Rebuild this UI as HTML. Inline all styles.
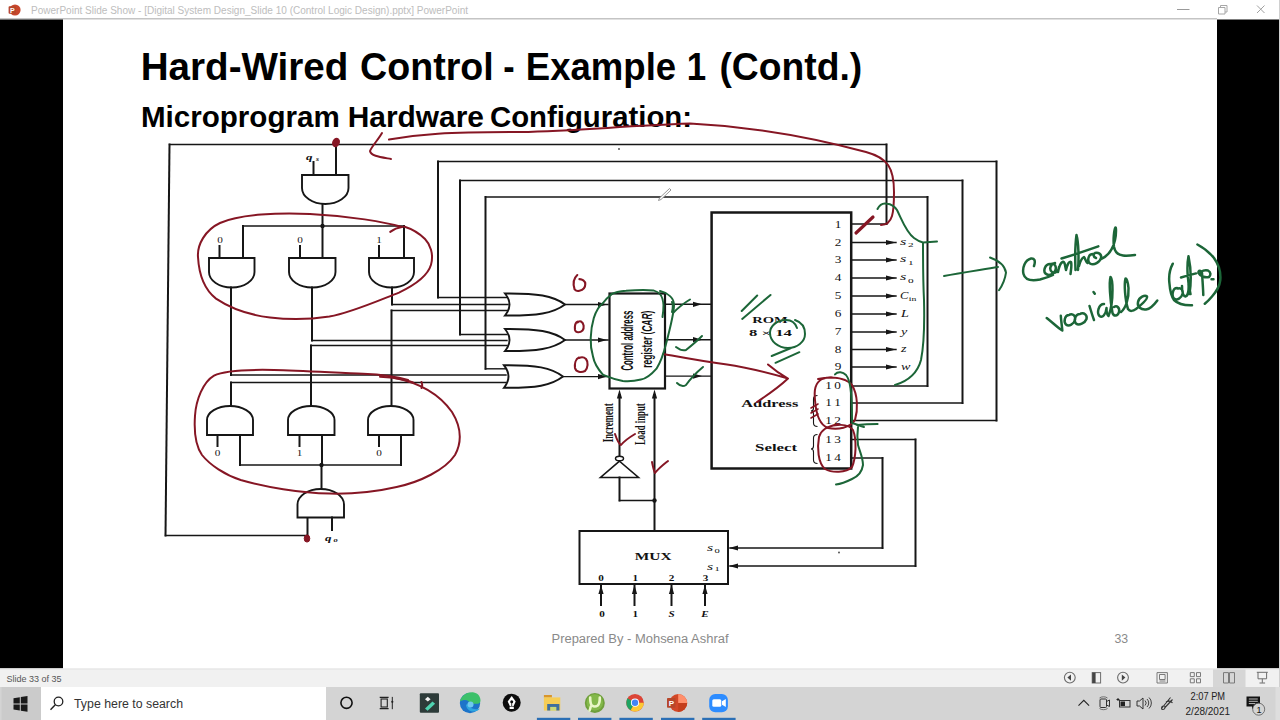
<!DOCTYPE html>
<html><head><meta charset="utf-8"><style>
*{margin:0;padding:0;box-sizing:border-box}
html,body{width:1280px;height:720px;overflow:hidden;background:#fff;font-family:"Liberation Sans",sans-serif}
svg{position:absolute;left:0;top:0}
.g{fill:#fff;stroke:#161616;stroke-width:1.9}
.w{fill:none;stroke:#161616;stroke-width:1.5}
</style></head><body>
<svg width="1280" height="720" viewBox="0 0 1280 720" font-family="Liberation Sans" fill="#111">
<!-- title bar -->
<rect x="0" y="0" width="1280" height="19" fill="#fff"/>
<rect x="0" y="18" width="1217" height="1.5" fill="#c4c4c4"/>
<!-- black bars -->
<rect x="0" y="19.5" width="63" height="649" fill="#000"/>
<rect x="1217" y="19.5" width="63" height="649" fill="#000"/>
<!-- slide title -->
<text x="140.70000000000002" y="80" font-size="38.5" font-weight="bold" fill="#000" textLength="207.7" lengthAdjust="spacingAndGlyphs">Hard-Wired</text>
<text x="360.05" y="80" font-size="38.5" font-weight="bold" fill="#000" textLength="133.65" lengthAdjust="spacingAndGlyphs">Control</text>
<text x="503.3" y="80" font-size="38.5" font-weight="bold" fill="#000" textLength="11.4" lengthAdjust="spacingAndGlyphs">-</text>
<text x="525.8" y="80" font-size="38.5" font-weight="bold" fill="#000" textLength="150.4" lengthAdjust="spacingAndGlyphs">Example</text>
<text x="686.8" y="80" font-size="38.5" font-weight="bold" fill="#000" textLength="19.4" lengthAdjust="spacingAndGlyphs">1</text>
<text x="719.4" y="80" font-size="38.5" font-weight="bold" fill="#000" textLength="142.79999999999998" lengthAdjust="spacingAndGlyphs">(Contd.)</text>
<text x="140.9" y="127" font-size="29" font-weight="bold" fill="#000" textLength="198.85" lengthAdjust="spacingAndGlyphs">Microprogram</text>
<text x="347.75" y="127" font-size="29" font-weight="bold" fill="#000" textLength="136.25" lengthAdjust="spacingAndGlyphs">Hardware</text>
<text x="490" y="127" font-size="29" font-weight="bold" fill="#000" textLength="202" lengthAdjust="spacingAndGlyphs">Configuration:</text>

<path d="M851.0 224.0L886.5 224.0" stroke="#161616" stroke-width="1.4" stroke-linecap="square" fill="none"/><path d="M886.5 224.0L886.5 144.5" stroke="#161616" stroke-width="2.0" stroke-linecap="square" fill="none"/><path d="M886.5 144.5L169.5 144.5" stroke="#161616" stroke-width="1.4" stroke-linecap="square" fill="none"/><path d="M169.5 144.5L165.5 535.5" stroke="#161616" stroke-width="2.0" stroke-linecap="square" fill="none"/><path d="M165.5 535.5L307.5 535.5" stroke="#161616" stroke-width="1.4" stroke-linecap="square" fill="none"/><path d="M307.5 535.5L307.5 517.5" stroke="#161616" stroke-width="2.0" stroke-linecap="square" fill="none"/>
<path d="M336.0 144.5L336.0 175.0" stroke="#161616" stroke-width="2.0" stroke-linecap="square" fill="none"/>
<path d="M851.0 420.5L996.5 420.5" stroke="#161616" stroke-width="1.4" stroke-linecap="square" fill="none"/><path d="M996.5 420.5L996.5 161.5" stroke="#161616" stroke-width="2.0" stroke-linecap="square" fill="none"/><path d="M996.5 161.5L438.0 161.5" stroke="#161616" stroke-width="1.4" stroke-linecap="square" fill="none"/><path d="M438.0 161.5L438.0 297.5" stroke="#161616" stroke-width="2.0" stroke-linecap="square" fill="none"/><path d="M438.0 297.5L507.0 297.5" stroke="#161616" stroke-width="1.4" stroke-linecap="square" fill="none"/>
<path d="M851.0 403.0L962.5 403.0" stroke="#161616" stroke-width="1.4" stroke-linecap="square" fill="none"/><path d="M962.5 403.0L962.5 180.5" stroke="#161616" stroke-width="2.0" stroke-linecap="square" fill="none"/><path d="M962.5 180.5L460.0 180.5" stroke="#161616" stroke-width="1.4" stroke-linecap="square" fill="none"/><path d="M460.0 180.5L460.0 334.5" stroke="#161616" stroke-width="2.0" stroke-linecap="square" fill="none"/><path d="M460.0 334.5L507.0 334.5" stroke="#161616" stroke-width="1.4" stroke-linecap="square" fill="none"/>
<path d="M851.0 386.0L927.5 386.0" stroke="#161616" stroke-width="1.4" stroke-linecap="square" fill="none"/><path d="M927.5 386.0L927.5 197.0" stroke="#161616" stroke-width="2.0" stroke-linecap="square" fill="none"/><path d="M927.5 197.0L485.5 197.0" stroke="#161616" stroke-width="1.4" stroke-linecap="square" fill="none"/><path d="M485.5 197.0L485.5 368.8" stroke="#161616" stroke-width="2.0" stroke-linecap="square" fill="none"/><path d="M485.5 368.8L506.0 368.8" stroke="#161616" stroke-width="1.4" stroke-linecap="square" fill="none"/>
<path d="M302 175H348.5V188A23.25 16 0 0 1 302 188Z" class="g"/>
<path d="M313.5 162.0L313.5 175.0" stroke="#161616" stroke-width="2.0" stroke-linecap="square" fill="none"/>
<path d="M322.5 204.0L322.5 226.0" stroke="#161616" stroke-width="2.0" stroke-linecap="square" fill="none"/>
<circle cx="322.5" cy="226" r="2.2" fill="#161616"/>
<path d="M243.0 258.0L243.0 226.0" stroke="#161616" stroke-width="2.0" stroke-linecap="square" fill="none"/><path d="M243.0 226.0L404.0 226.0" stroke="#161616" stroke-width="1.4" stroke-linecap="square" fill="none"/><path d="M404.0 226.0L404.0 258.0" stroke="#161616" stroke-width="2.0" stroke-linecap="square" fill="none"/>
<path d="M322.5 226.0L322.5 258.0" stroke="#161616" stroke-width="2.0" stroke-linecap="square" fill="none"/>
<path d="M209 258H254.5V272A22.75 15.5 0 0 1 209 272Z" class="g"/>
<path d="M219.5 246.0L219.5 258.0" stroke="#161616" stroke-width="2.0" stroke-linecap="square" fill="none"/>
<path d="M289 258H335.5V272A23.25 15.5 0 0 1 289 272Z" class="g"/>
<path d="M300.0 246.0L300.0 258.0" stroke="#161616" stroke-width="2.0" stroke-linecap="square" fill="none"/>
<path d="M369 258H414V272A22.5 15.5 0 0 1 369 272Z" class="g"/>
<path d="M379.0 246.0L379.0 258.0" stroke="#161616" stroke-width="2.0" stroke-linecap="square" fill="none"/>
<path d="M231.0 287.5L231.0 375.0" stroke="#161616" stroke-width="2.0" stroke-linecap="square" fill="none"/><path d="M231.0 375.0L506.0 375.0" stroke="#161616" stroke-width="1.4" stroke-linecap="square" fill="none"/>
<path d="M312.0 287.5L312.0 340.5" stroke="#161616" stroke-width="2.0" stroke-linecap="square" fill="none"/><path d="M312.0 340.5L507.0 340.5" stroke="#161616" stroke-width="1.4" stroke-linecap="square" fill="none"/>
<path d="M392.0 287.5L392.0 304.5" stroke="#161616" stroke-width="2.0" stroke-linecap="square" fill="none"/><path d="M392.0 304.5L508.0 304.5" stroke="#161616" stroke-width="1.4" stroke-linecap="square" fill="none"/>
<path d="M207 435H253V420A23.0 14 0 0 0 207 420Z" class="g"/>
<path d="M217.5 435.0L217.5 446.0" stroke="#161616" stroke-width="2.0" stroke-linecap="square" fill="none"/>
<path d="M288 435H334.5V420A23.25 14 0 0 0 288 420Z" class="g"/>
<path d="M299.5 435.0L299.5 446.0" stroke="#161616" stroke-width="2.0" stroke-linecap="square" fill="none"/>
<path d="M368 435H413.5V420A22.75 14 0 0 0 368 420Z" class="g"/>
<path d="M379.0 435.0L379.0 446.0" stroke="#161616" stroke-width="2.0" stroke-linecap="square" fill="none"/>
<path d="M231.0 406.0L231.0 382.5" stroke="#161616" stroke-width="2.0" stroke-linecap="square" fill="none"/><path d="M231.0 382.5L506.0 382.5" stroke="#161616" stroke-width="1.4" stroke-linecap="square" fill="none"/>
<path d="M311.0 406.0L311.0 345.5" stroke="#161616" stroke-width="2.0" stroke-linecap="square" fill="none"/><path d="M311.0 345.5L507.0 345.5" stroke="#161616" stroke-width="1.4" stroke-linecap="square" fill="none"/>
<path d="M391.5 406.0L391.5 310.5" stroke="#161616" stroke-width="2.0" stroke-linecap="square" fill="none"/><path d="M391.5 310.5L508.0 310.5" stroke="#161616" stroke-width="1.4" stroke-linecap="square" fill="none"/>
<path d="M240.0 435.0L240.0 465.0" stroke="#161616" stroke-width="2.0" stroke-linecap="square" fill="none"/><path d="M240.0 465.0L401.0 465.0" stroke="#161616" stroke-width="1.4" stroke-linecap="square" fill="none"/><path d="M401.0 465.0L401.0 435.0" stroke="#161616" stroke-width="2.0" stroke-linecap="square" fill="none"/>
<path d="M322.0 435.0L322.0 465.0" stroke="#161616" stroke-width="2.0" stroke-linecap="square" fill="none"/>
<circle cx="321.5" cy="465" r="2.2" fill="#161616"/>
<path d="M321.5 465.0L321.5 489.0" stroke="#161616" stroke-width="2.0" stroke-linecap="square" fill="none"/>
<path d="M297.5 517.5H344V504.5A23.25 15.5 0 0 0 297.5 504.5Z" class="g"/>
<path d="M332.0 517.5L332.0 530.0" stroke="#161616" stroke-width="2.0" stroke-linecap="square" fill="none"/>
<path d="M505 293.5C537 293.2 553 295.5 565 304.5C553 313.5 537 315.8 505 315.5Q514 304.5 505 293.5Z" class="g"/>
<path d="M505 329C537 328.7 553 331 565 340.0C553 349 537 351.3 505 351Q514 340.0 505 329Z" class="g"/>
<path d="M504 365.3C536 365.0 551 367.3 563 376.55C551 385.8 536 388.1 504 387.8Q513 376.55 504 365.3Z" class="g"/>
<path d="M565.0 304.5L608.0 304.5" stroke="#161616" stroke-width="1.4" stroke-linecap="square" fill="none"/>
<path d="M607 304.5L598 301.9L598 307.1Z" fill="#161616"/>
<path d="M565.0 340.0L608.0 340.0" stroke="#161616" stroke-width="1.4" stroke-linecap="square" fill="none"/>
<path d="M607 340L598 337.4L598 342.6Z" fill="#161616"/>
<path d="M563.0 376.6L608.0 376.6" stroke="#161616" stroke-width="1.4" stroke-linecap="square" fill="none"/>
<path d="M607 376.6L598 374.0L598 379.20000000000005Z" fill="#161616"/>
<rect x="609.5" y="293.5" width="55.5" height="95" fill="none" stroke="#161616" stroke-width="2.2"/>
<path d="M666.0 304.3L711.0 304.3" stroke="#161616" stroke-width="1.4" stroke-linecap="square" fill="none"/>
<path d="M702 304.3L693 301.7L693 306.90000000000003Z" fill="#161616"/>
<path d="M666.0 339.7L711.0 339.7" stroke="#161616" stroke-width="1.4" stroke-linecap="square" fill="none"/>
<path d="M702 339.7L693 337.09999999999997L693 342.3Z" fill="#161616"/>
<path d="M666.0 376.1L711.0 376.1" stroke="#161616" stroke-width="1.4" stroke-linecap="square" fill="none"/>
<path d="M702 376.1L693 373.5L693 378.70000000000005Z" fill="#161616"/>
<rect x="711.6" y="212.5" width="139.6" height="256" fill="none" stroke="#161616" stroke-width="2.5"/>
<path d="M851.0 242.5L896.0 242.5" stroke="#161616" stroke-width="1.4" stroke-linecap="square" fill="none"/>
<path d="M896 242.5L886 240.1L886 244.9Z" fill="#161616"/>
<path d="M851.0 260.0L896.0 260.0" stroke="#161616" stroke-width="1.4" stroke-linecap="square" fill="none"/>
<path d="M896 260L886 257.6L886 262.4Z" fill="#161616"/>
<path d="M851.0 278.0L896.0 278.0" stroke="#161616" stroke-width="1.4" stroke-linecap="square" fill="none"/>
<path d="M896 278L886 275.6L886 280.4Z" fill="#161616"/>
<path d="M851.0 296.0L896.0 296.0" stroke="#161616" stroke-width="1.4" stroke-linecap="square" fill="none"/>
<path d="M896 296L886 293.6L886 298.4Z" fill="#161616"/>
<path d="M851.0 314.0L896.0 314.0" stroke="#161616" stroke-width="1.4" stroke-linecap="square" fill="none"/>
<path d="M896 314L886 311.6L886 316.4Z" fill="#161616"/>
<path d="M851.0 332.0L896.0 332.0" stroke="#161616" stroke-width="1.4" stroke-linecap="square" fill="none"/>
<path d="M896 332L886 329.6L886 334.4Z" fill="#161616"/>
<path d="M851.0 349.5L896.0 349.5" stroke="#161616" stroke-width="1.4" stroke-linecap="square" fill="none"/>
<path d="M896 349.5L886 347.1L886 351.9Z" fill="#161616"/>
<path d="M851.0 367.0L896.0 367.0" stroke="#161616" stroke-width="1.4" stroke-linecap="square" fill="none"/>
<path d="M896 367L886 364.6L886 369.4Z" fill="#161616"/>
<path d="M851.0 439.5L915.5 439.5" stroke="#161616" stroke-width="1.4" stroke-linecap="square" fill="none"/><path d="M915.5 439.5L915.5 566.0" stroke="#161616" stroke-width="2.0" stroke-linecap="square" fill="none"/><path d="M915.5 566.0L730.0 566.0" stroke="#161616" stroke-width="1.4" stroke-linecap="square" fill="none"/>
<path d="M729 566L738 563.4L738 568.6Z" fill="#161616"/>
<path d="M851.0 458.0L882.5 458.0" stroke="#161616" stroke-width="1.4" stroke-linecap="square" fill="none"/><path d="M882.5 458.0L882.5 548.0" stroke="#161616" stroke-width="2.0" stroke-linecap="square" fill="none"/><path d="M882.5 548.0L730.0 548.0" stroke="#161616" stroke-width="1.4" stroke-linecap="square" fill="none"/>
<path d="M729 548L738 545.4L738 550.6Z" fill="#161616"/>
<rect x="579.5" y="531" width="148.5" height="53" fill="none" stroke="#161616" stroke-width="2"/>
<path d="M601.0 605.0L601.0 586.0" stroke="#161616" stroke-width="2.0" stroke-linecap="square" fill="none"/>
<path d="M601 585L598.4 594L603.6 594Z" fill="#161616"/>
<path d="M634.5 605.0L634.5 586.0" stroke="#161616" stroke-width="2.0" stroke-linecap="square" fill="none"/>
<path d="M634.5 585L631.9 594L637.1 594Z" fill="#161616"/>
<path d="M671.5 605.0L671.5 586.0" stroke="#161616" stroke-width="2.0" stroke-linecap="square" fill="none"/>
<path d="M671.5 585L668.9 594L674.1 594Z" fill="#161616"/>
<path d="M705.0 605.0L705.0 586.0" stroke="#161616" stroke-width="2.0" stroke-linecap="square" fill="none"/>
<path d="M705 585L702.4 594L707.6 594Z" fill="#161616"/>
<path d="M654.5 531.0L654.5 395.0" stroke="#161616" stroke-width="2.0" stroke-linecap="square" fill="none"/>
<path d="M654.5 389.5L651.9 398.5L657.1 398.5Z" fill="#161616"/>
<path d="M619.5 456.0L619.5 395.0" stroke="#161616" stroke-width="2.0" stroke-linecap="square" fill="none"/>
<path d="M619.5 389.5L616.9 398.5L622.1 398.5Z" fill="#161616"/>
<ellipse cx="619.5" cy="458.5" rx="4" ry="2.3" fill="#fff" stroke="#161616" stroke-width="1.5"/>
<path d="M619.5 461.2L600.5 477.5H638.5Z" fill="#fff" stroke="#161616" stroke-width="1.6"/>
<path d="M619.5 477.5L619.5 500.5" stroke="#161616" stroke-width="2.0" stroke-linecap="square" fill="none"/><path d="M619.5 500.5L654.5 500.5" stroke="#161616" stroke-width="1.4" stroke-linecap="square" fill="none"/>
<circle cx="654.5" cy="500.5" r="2.2" fill="#161616"/>
<text transform="translate(306 159.6) scale(1.3 0.85)" font-size="10" text-anchor="start" font-family="Liberation Serif" font-weight="bold" font-style="italic">q</text>
<text transform="translate(316 160.5) scale(1.2 0.9)" font-size="6.5" text-anchor="start" font-family="Liberation Serif" font-weight="bold" font-style="italic">s</text>
<text transform="translate(220 242.5) scale(1.25 0.85)" font-size="9" text-anchor="middle" font-family="Liberation Serif" >0</text>
<text transform="translate(300 242.5) scale(1.25 0.85)" font-size="9" text-anchor="middle" font-family="Liberation Serif" >0</text>
<text transform="translate(379 242.5) scale(1.25 0.85)" font-size="9" text-anchor="middle" font-family="Liberation Serif" >1</text>
<text transform="translate(217.5 455.8) scale(1.25 0.85)" font-size="9" text-anchor="middle" font-family="Liberation Serif" >0</text>
<text transform="translate(299.5 455.8) scale(1.25 0.85)" font-size="9" text-anchor="middle" font-family="Liberation Serif" >1</text>
<text transform="translate(379 455.8) scale(1.25 0.85)" font-size="9" text-anchor="middle" font-family="Liberation Serif" >0</text>
<text transform="translate(325 540.5) scale(1.3 0.85)" font-size="10" text-anchor="start" font-family="Liberation Serif" font-weight="bold" font-style="italic">q</text>
<text transform="translate(333.5 541.5) scale(1.3 0.9)" font-size="6.5" text-anchor="start" font-family="Liberation Serif" font-weight="bold" font-style="italic">o</text>
<text transform="translate(838 228.4) scale(1.35 1.0)" font-size="9.8" text-anchor="middle" font-family="Liberation Serif" >1</text>
<text transform="translate(838 245.9) scale(1.35 1.0)" font-size="9.8" text-anchor="middle" font-family="Liberation Serif" >2</text>
<text transform="translate(838 263.4) scale(1.35 1.0)" font-size="9.8" text-anchor="middle" font-family="Liberation Serif" >3</text>
<text transform="translate(838 281.4) scale(1.35 1.0)" font-size="9.8" text-anchor="middle" font-family="Liberation Serif" >4</text>
<text transform="translate(838 299.4) scale(1.35 1.0)" font-size="9.8" text-anchor="middle" font-family="Liberation Serif" >5</text>
<text transform="translate(838 317.4) scale(1.35 1.0)" font-size="9.8" text-anchor="middle" font-family="Liberation Serif" >6</text>
<text transform="translate(838 335.4) scale(1.35 1.0)" font-size="9.8" text-anchor="middle" font-family="Liberation Serif" >7</text>
<text transform="translate(838 352.9) scale(1.35 1.0)" font-size="9.8" text-anchor="middle" font-family="Liberation Serif" >8</text>
<text transform="translate(838 370.4) scale(1.35 1.0)" font-size="9.8" text-anchor="middle" font-family="Liberation Serif" >9</text>
<text transform="translate(828.6 389.4) scale(1.35 1.0)" font-size="9.8" text-anchor="middle" font-family="Liberation Serif" >1</text>
<text transform="translate(837.6 389.4) scale(1.35 1.0)" font-size="9.8" text-anchor="middle" font-family="Liberation Serif" >0</text>
<text transform="translate(828.6 406.4) scale(1.35 1.0)" font-size="9.8" text-anchor="middle" font-family="Liberation Serif" >1</text>
<text transform="translate(837.6 406.4) scale(1.35 1.0)" font-size="9.8" text-anchor="middle" font-family="Liberation Serif" >1</text>
<text transform="translate(828.6 424.4) scale(1.35 1.0)" font-size="9.8" text-anchor="middle" font-family="Liberation Serif" >1</text>
<text transform="translate(837.6 424.4) scale(1.35 1.0)" font-size="9.8" text-anchor="middle" font-family="Liberation Serif" >2</text>
<text transform="translate(828.6 442.9) scale(1.35 1.0)" font-size="9.8" text-anchor="middle" font-family="Liberation Serif" >1</text>
<text transform="translate(837.6 442.9) scale(1.35 1.0)" font-size="9.8" text-anchor="middle" font-family="Liberation Serif" >3</text>
<text transform="translate(828.6 460.9) scale(1.35 1.0)" font-size="9.8" text-anchor="middle" font-family="Liberation Serif" >1</text>
<text transform="translate(837.6 460.9) scale(1.35 1.0)" font-size="9.8" text-anchor="middle" font-family="Liberation Serif" >4</text>
<text transform="translate(900 244.7) scale(1.55 0.9)" font-size="10.5" text-anchor="start" font-family="Liberation Serif" font-style="italic">s</text>
<text transform="translate(908 247.1) scale(1.5 0.95)" font-size="7.5" text-anchor="start" font-family="Liberation Serif" >2</text>
<text transform="translate(900 262.2) scale(1.55 0.9)" font-size="10.5" text-anchor="start" font-family="Liberation Serif" font-style="italic">s</text>
<text transform="translate(908 264.6) scale(1.5 0.95)" font-size="7.5" text-anchor="start" font-family="Liberation Serif" >1</text>
<text transform="translate(900 280.2) scale(1.55 0.9)" font-size="10.5" text-anchor="start" font-family="Liberation Serif" font-style="italic">s</text>
<text transform="translate(908 282.6) scale(1.5 0.95)" font-size="7.5" text-anchor="start" font-family="Liberation Serif" >0</text>
<text transform="translate(900 298.8) scale(1.2 0.9)" font-size="10.5" text-anchor="start" font-family="Liberation Serif" font-style="italic">C</text>
<text transform="translate(908.8 300.8) scale(1.3 0.95)" font-size="7.5" text-anchor="start" font-family="Liberation Serif" >in</text>
<text transform="translate(901 316.5) scale(1.35 0.9)" font-size="10.5" text-anchor="start" font-family="Liberation Serif" font-style="italic">L</text>
<text transform="translate(901 334.5) scale(1.35 0.9)" font-size="10.5" text-anchor="start" font-family="Liberation Serif" font-style="italic">y</text>
<text transform="translate(901 352.0) scale(1.35 0.9)" font-size="10.5" text-anchor="start" font-family="Liberation Serif" font-style="italic">z</text>
<text transform="translate(901 369.5) scale(1.35 0.9)" font-size="10.5" text-anchor="start" font-family="Liberation Serif" font-style="italic">w</text>
<text transform="translate(770 322.8) scale(1 1)" font-size="8.6" text-anchor="middle" font-family="Liberation Serif" font-weight="bold" textLength="35.5" lengthAdjust="spacingAndGlyphs">ROM</text>
<text transform="translate(770.5 335.5) scale(1 1)" font-size="8.6" text-anchor="middle" font-family="Liberation Serif" font-weight="bold" textLength="43" lengthAdjust="spacingAndGlyphs">8  ×  14</text>
<text transform="translate(769.8 406.8) scale(1 1)" font-size="9.6" text-anchor="middle" font-family="Liberation Serif" font-weight="bold" textLength="57" lengthAdjust="spacingAndGlyphs">Address</text>
<text transform="translate(776.1 451.4) scale(1 1)" font-size="9.6" text-anchor="middle" font-family="Liberation Serif" font-weight="bold" textLength="42.2" lengthAdjust="spacingAndGlyphs">Select</text>
<path d="M817.5 434.5Q813.5 434.5 813.5 438V446Q813.5 449 811 449Q813.5 449 813.5 452V460Q813.5 463.5 817.5 463.5" fill="none" stroke="#161616" stroke-width="1.1"/>
<path d="M817.5 395.5Q813.5 395.5 813.5 399V408Q813.5 411 811 411Q813.5 411 813.5 414V423Q813.5 426.5 817.5 426.5" fill="none" stroke="#161616" stroke-width="1.1"/>
<text transform="translate(633.2,340.6) rotate(-90)" font-size="16" text-anchor="middle" font-family="Liberation Sans" font-weight="bold" textLength="60" lengthAdjust="spacingAndGlyphs">Control address</text>
<text transform="translate(651.8,339.2) rotate(-90)" font-size="15" text-anchor="middle" font-family="Liberation Sans" font-weight="bold" textLength="57" lengthAdjust="spacingAndGlyphs">register (<tspan font-style="italic">CAR</tspan>)</text>
<text transform="translate(612.6,422.8) rotate(-90)" font-size="15.5" font-weight="bold" text-anchor="middle" font-family="Liberation Serif" textLength="39" lengthAdjust="spacingAndGlyphs">Increment</text>
<text transform="translate(645.3,424.1) rotate(-90)" font-size="15.5" font-weight="bold" text-anchor="middle" font-family="Liberation Serif" textLength="41.8" lengthAdjust="spacingAndGlyphs">Load input</text>
<text transform="translate(653.1 559.7) scale(1 1)" font-size="9.3" text-anchor="middle" font-family="Liberation Serif" font-weight="bold" textLength="36.8" lengthAdjust="spacingAndGlyphs">MUX</text>
<text transform="translate(707 551.2) scale(1.5 0.9)" font-size="10.5" text-anchor="start" font-family="Liberation Serif" font-style="italic">s</text>
<text transform="translate(714.5 553) scale(1.4 0.95)" font-size="7.5" text-anchor="start" font-family="Liberation Serif" >0</text>
<text transform="translate(707 569.5) scale(1.5 0.9)" font-size="10.5" text-anchor="start" font-family="Liberation Serif" font-style="italic">s</text>
<text transform="translate(714.5 571.3) scale(1.4 0.95)" font-size="7.5" text-anchor="start" font-family="Liberation Serif" >1</text>
<text transform="translate(601 581.3) scale(1.3 0.95)" font-size="8.6" text-anchor="middle" font-family="Liberation Serif" font-weight="bold">0</text>
<text transform="translate(635.4 581.3) scale(1.3 0.95)" font-size="8.6" text-anchor="middle" font-family="Liberation Serif" font-weight="bold">1</text>
<text transform="translate(671.5 581.3) scale(1.3 0.95)" font-size="8.6" text-anchor="middle" font-family="Liberation Serif" font-weight="bold">2</text>
<text transform="translate(705.5 581.3) scale(1.3 0.95)" font-size="8.6" text-anchor="middle" font-family="Liberation Serif" font-weight="bold">3</text>
<text transform="translate(602 617.4) scale(1.3 0.95)" font-size="8.6" text-anchor="middle" font-family="Liberation Serif" font-weight="bold">0</text>
<text transform="translate(635.4 617.4) scale(1.3 0.95)" font-size="8.6" text-anchor="middle" font-family="Liberation Serif" font-weight="bold">1</text>
<text transform="translate(671.5 617.4) scale(1.3 0.95)" font-size="8.6" text-anchor="middle" font-family="Liberation Serif" font-weight="bold" font-style="italic">S</text>
<text transform="translate(705 617.4) scale(1.3 0.95)" font-size="8.6" text-anchor="middle" font-family="Liberation Serif" font-weight="bold" font-style="italic">E</text>
<path d="M389 139.5C420 134 445 132 520 132C580 131 620 126 690 123.6C740 126 800 134 866 152C888 158 894 168 894 192C894 212 893 225 881 225" fill="none" stroke="#861624" stroke-width="2.0" stroke-linecap="round" stroke-linejoin="round"/>
<path d="M382 133C378 140 372 146 370 151C371 156 380 157 391 159" fill="none" stroke="#861624" stroke-width="2.0" stroke-linecap="round" stroke-linejoin="round"/>
<ellipse cx="336" cy="142.5" rx="3.2" ry="4.2" fill="#861624" stroke="#861624" stroke-width="1.2" transform="rotate(20 336 142.5)"/>
<ellipse cx="307" cy="538.5" rx="2.8" ry="3.6" fill="#861624" stroke="#861624" stroke-width="1"/>
<path d="M856 233L873 217" fill="none" stroke="#861624" stroke-width="3.2" stroke-linecap="round" stroke-linejoin="round"/>
<path d="M390.2 231.9C394 229 398 227.5 402 227" fill="none" stroke="#861624" stroke-width="2.0" stroke-linecap="round" stroke-linejoin="round"/>
<path d="M402 227C385 222 350 216 310 214C280 212.5 240 214 220 223C205 230 197 245 198 257C199 275 205 290 216 298.6C230 308 250 315 270 317.5C290 320 310 319.5 329.4 316.6C350 313 375 302 399 292.6C415 285 428 275 431 264.8C434 254 430 244 425 239C418 232 412 229 404 226.5" fill="none" stroke="#861624" stroke-width="2.0" stroke-linecap="round" stroke-linejoin="round"/>
<path d="M380 376.7C395 377.5 405 379 413 382.5M421.5 382C422.5 384 422.5 386 421.5 388" fill="none" stroke="#861624" stroke-width="2.0" stroke-linecap="round" stroke-linejoin="round"/>
<path d="M395 378C420 383 440 395 452 412C460 425 463 440 455 455C445 470 420 482 396.6 487C375 492 350 494 329.8 493.6C300 493 265 487 240.7 480C225 475 210 465 202 455C195 445 194 430 195 415.7C196 400 203 382 214 375.6C225 370 250 369.5 274 370C300 370.5 340 373 363 373.8C380 374.5 395 376 408 380" fill="none" stroke="#861624" stroke-width="2.0" stroke-linecap="round" stroke-linejoin="round"/>
<path d="M577.3 275C574 278 572.5 283 574.6 289.3C576 291 578 291.2 579.4 290.8C583 290 585.3 288 585.3 284C585.3 281 582 279 579.4 279.1" fill="none" stroke="#861624" stroke-width="2.1" stroke-linecap="round" stroke-linejoin="round"/>
<path d="M578 321.5C575 322 574.5 327 575 330C576 333 580 333 582.5 330.5C584.5 328 584 323 581 321.5C580 321 578.5 321.5 577.5 322.5" fill="none" stroke="#861624" stroke-width="2.1" stroke-linecap="round" stroke-linejoin="round"/>
<path d="M579 357.5C575.5 359 574.5 364 575 368C576 372 581 373 585 371C588 368 588.5 362 586 359C584 357 581 357 579 358" fill="none" stroke="#861624" stroke-width="2.1" stroke-linecap="round" stroke-linejoin="round"/>
<path d="M663.5 354C680 357 700 361 727 364.5C745 367 765 372 788 378.5C780 374 772 368 768 364.5C772 368 780 374 788 378.5C778 388 766 396 757 402" fill="none" stroke="#861624" stroke-width="2.0" stroke-linecap="round" stroke-linejoin="round"/>
<path d="M818 379C830 376 845 377 852 385C858 395 858 410 855 420C850 428 838 430 828 428C820 425 816 415 815 400C814 390 815 383 822 379C828 377 838 377 845 380" fill="none" stroke="#861624" stroke-width="2.0" stroke-linecap="round" stroke-linejoin="round"/>
<path d="M826 428C835 424 848 423 853 430C857 440 856 458 852 467C846 473 832 473 825 469C818 463 817 448 819 437C821 430 826 427 838 424" fill="none" stroke="#861624" stroke-width="2.0" stroke-linecap="round" stroke-linejoin="round"/>
<path d="M811 408L818 404M811 413L818 409M811 418L818 414" fill="none" stroke="#861624" stroke-width="1.6" stroke-linecap="round" stroke-linejoin="round"/>
<path d="M615 434C617 440 619 444 621 445C625 440 630 437 635 434" fill="none" stroke="#861624" stroke-width="2.0" stroke-linecap="round" stroke-linejoin="round"/>
<path d="M652 462C653 467 654 471 655 473C659 468 663 465 668 461" fill="none" stroke="#861624" stroke-width="2.0" stroke-linecap="round" stroke-linejoin="round"/>
<path d="M610.6 294.5C615 292 620 291 626 290.7C635 290 645 289.5 653.4 290.4C660 292 663 296 663.5 305C663.5 310 663 314 662.5 317" fill="none" stroke="#1c6638" stroke-width="2.0" stroke-linecap="round" stroke-linejoin="round"/>
<path d="M660 291C668 293 674 298 674 305C674 312 671 325 666 344C664 352 662 360 656.5 368.7C651 375 645 379 641 379.5C635 381 628 381.5 622.8 381C612 379 606 376 603 374.8C597 368 594 362 593 356.5C591 350 590.5 344 590.7 338C591 330 592 324 593.8 318C596 311 599 306 603 303C606 299 608 297 612 294" fill="none" stroke="#1c6638" stroke-width="2.0" stroke-linecap="round" stroke-linejoin="round"/>
<path d="M672 312C673 308 673 304 672 302M673 313C678 308 684 303 690 299.5" fill="none" stroke="#1c6638" stroke-width="2.0" stroke-linecap="round" stroke-linejoin="round"/>
<path d="M676 347C680 350 683 351 686 350C691 346 697 341 702 336" fill="none" stroke="#1c6638" stroke-width="2.0" stroke-linecap="round" stroke-linejoin="round"/>
<path d="M677 383C680 386 683 387 686 385C691 378 697 372 703 367" fill="none" stroke="#1c6638" stroke-width="2.0" stroke-linecap="round" stroke-linejoin="round"/>
<path d="M741.7 311L757.2 295.5M742.2 318.9L770.5 295" fill="none" stroke="#1c6638" stroke-width="2.0" stroke-linecap="round" stroke-linejoin="round"/>
<path d="M797 328C795 322 791 320 786 320C777 320 770 326 770 333C770 341 778 348 788 348C797 348 805 342 805 334C805 327 801 322 795 320" fill="none" stroke="#1c6638" stroke-width="2.0" stroke-linecap="round" stroke-linejoin="round"/>
<path d="M771.7 356L790.5 348.3M775.5 362.8L799.4 352.2" fill="none" stroke="#1c6638" stroke-width="2.0" stroke-linecap="round" stroke-linejoin="round"/>
<path d="M877.5 209C880 204 884 203 887 203.7C892 204 895 207 897 210C902 220 906 232 914 238C918 241 921 242 923 242.5M923 242.5L937 241.5M923 243C923 260 923 280 924 300C924.5 320 924 345 921 360C917 375 905 382 895 385" fill="none" stroke="#1c6638" stroke-width="2.0" stroke-linecap="round" stroke-linejoin="round"/>
<path d="M944 276C960 273 980 270 998 267M990 257.5C1000 261 1005 266 1006 272.7C1005 280 1002 286 999 290.3" fill="none" stroke="#1c6638" stroke-width="2.0" stroke-linecap="round" stroke-linejoin="round"/>
<path d="M835 374.4C838 371 843 372 846 375C850 380 852 390 852 421M852 423C856 424 860 426 864 427M857 425C866 424 872 424 877.6 424M858 427C857 434 857.5 441 858 445C860 452 863 458 863 465C862 472 859 476 852 479C846 482 840 484 836 484.5" fill="none" stroke="#1c6638" stroke-width="2.0" stroke-linecap="round" stroke-linejoin="round"/>
<path d="M669.5 188.5L671 190L661 199.5L658.5 200.5L659.5 198Z" fill="#fff" stroke="#8a8a8a" stroke-width="0.9"/>
<circle cx="619" cy="149" r="0.9" fill="#444"/><circle cx="839" cy="552.5" r="0.9" fill="#444"/>
<path d="M1034 266C1036 260 1034 258 1031 258.5C1025 260 1022 268 1023.5 274C1025 280 1032 281 1040 279.5C1046 278 1050 276.5 1053 275M1050 264C1045 264 1043 271 1045.5 273.5C1048 276 1053 275 1055 271C1057 267 1055 263 1051 264M1055 263C1050 264 1049 270 1052 272C1055 274 1059 271 1059 267M1058 272C1059 267 1060 263 1062.5 262C1065 261 1065 266 1066 270C1067 265 1069 261 1071 262C1072 265 1071 270 1070.5 274M1075.5 270C1075 258 1075.5 242 1076.5 235C1078.5 242 1079 258 1078 270M1061.5 258.5C1075 254.5 1088 250 1098.3 246.4M1079 266C1080 262 1082 258 1084 257C1085.5 259 1086 262 1087.5 263M1093 254C1088 254 1087 261 1090 263.5C1094 266 1100 262 1101 258C1102 254 1098 252 1095 253C1093 254 1093 257 1096 258M1101 259C1108 256 1113 249 1115 240C1116.5 233 1116 227 1115.5 227.5C1114 230 1113 240 1114 247C1115 252 1118 255 1123 255.5C1127 256 1131 255.5 1135 255" fill="none" stroke="#1c6638" stroke-width="2.5" stroke-linecap="round" stroke-linejoin="round"/>
<path d="M1046.7 318C1052 322 1058 328 1062.3 330.5C1062 326 1061 320 1060.8 315.7M1069 315C1064.5 315 1063.5 322 1066 324.5C1069 327 1074 324 1075 320C1076 316 1073 313.5 1070 314.5M1080 314C1075 314 1073.5 321 1076 323.5C1079 326 1085 323 1086.5 319C1087.5 315 1084 312.5 1081 313.5M1089.5 306C1091 311 1092.5 316 1094 320M1093.5 292L1094.8 293.8M1104 304C1098.5 304 1096.5 313 1099.5 316C1102.5 318.5 1106 314 1106.5 308C1106.5 312 1107 315 1108.5 316M1108.5 316C1111 310 1112.5 300 1112.5 290C1112.5 283 1111.5 278 1110.5 277C1109 282 1110 300 1112.5 313C1114 317 1118 316 1119 312C1120 308 1117 305 1114 307M1121 312C1126 308 1129 298 1128.5 288C1128 282 1126.5 278 1125.5 278.5C1124 284 1125 300 1128 309C1130 312 1133 311 1136 309M1136 309C1141 305 1148 299 1147 296.5C1145 294.5 1139 297 1138 302C1137 307 1141 310 1146 309.5C1150 309 1154 305 1157.3 300.5" fill="none" stroke="#1c6638" stroke-width="2.5" stroke-linecap="round" stroke-linejoin="round"/>
<path d="M1172.8 263.7C1169.5 270 1168.8 278 1169.4 283C1170 291 1171 296 1174 300C1178 304 1185 305.5 1192 305.3M1177 288C1172.5 288 1171.5 296 1174 298.5C1177 301 1181.5 298 1182.5 294C1183.5 290 1181 287.5 1178 288.5M1182 286C1182 292 1183 296 1185.5 296.5C1188 296 1189 290 1188.5 284M1189.5 294C1191 284 1191 268 1188.5 256.3C1186.5 266 1187.5 282 1190.5 294M1181 277.5C1186 276 1191 274.5 1196 273.4M1203.3 295C1203 287 1202.5 280 1202 273C1201 270 1198 270 1198.5 273C1200 276 1205 278 1209 277C1211 275 1211 272 1208 270.5C1205 269.5 1201 271 1201 273M1211.5 279.3L1213.5 279.3M1197.4 244.5C1204 248 1210 253 1214 258C1219 265 1221 272 1220.3 280C1219.5 287 1216 292 1212 296.5C1209.5 299.5 1207 302 1204.8 303.8" fill="none" stroke="#1c6638" stroke-width="2.5" stroke-linecap="round" stroke-linejoin="round"/>
<!-- footer -->
<text x="551.5" y="643" font-size="12.3" fill="#8a8a8a" textLength="177" lengthAdjust="spacingAndGlyphs">Prepared By - Mohsena Ashraf</text>
<text x="1114.5" y="643" font-size="12.3" fill="#8a8a8a">33</text>
<!-- status bar -->
<rect x="0" y="668.5" width="1280" height="18.5" fill="#f1f1f1"/>
<rect x="0" y="668.5" width="1280" height="1" fill="#e2e2e2"/>
<text x="6.5" y="681.5" font-size="9" fill="#555">Slide 33 of 35</text>
<!-- taskbar -->
<rect x="0" y="687" width="1280" height="33" fill="#d4d4d4"/>
<rect x="1.5" y="687" width="39.5" height="33" fill="#cbcbcb"/>
<rect x="41" y="687" width="285" height="33" fill="#fff"/>
<text x="74" y="708" font-size="12.5" fill="#333" textLength="109" lengthAdjust="spacingAndGlyphs">Type here to search</text>
<circle cx="15" cy="10" r="5.6" fill="#c8462c"/>
<rect x="8.6" y="6.2" width="7.4" height="7.6" rx="0.8" fill="#b7472a"/>
<text x="12.3" y="12.6" font-size="7" font-weight="bold" fill="#fff" text-anchor="middle">P</text>
<text x="31" y="13.6" font-size="10" fill="#bdbdbd" textLength="437" lengthAdjust="spacingAndGlyphs">PowerPoint Slide Show  -  [Digital System Design_Slide 10 (Control Logic Design).pptx]   PowerPoint</text>
<path d="M1177 9.5H1189.5" stroke="#9a9a9a" stroke-width="1"/>
<path d="M1218.5 7.5h6.5v6.5h-6.5zM1220.5 7.5V5.5h6.5v6.5h-2" fill="none" stroke="#a6a6a6" stroke-width="1"/>
<path d="M1257 5.5L1264.5 13M1264.5 5.5L1257 13" stroke="#a0a0a0" stroke-width="1"/>
<rect x="1279" y="0" width="1" height="687" fill="#d0d0d0"/>
<circle cx="1069.8" cy="677.6" r="5.4" fill="none" stroke="#6d6d6d" stroke-width="1.1"/><path d="M1067.4 677.6l3.6-3.1v6.2z" fill="#444"/>
<rect x="1092.2" y="672.6" width="8.4" height="10.4" fill="none" stroke="#6d6d6d" stroke-width="1"/><rect x="1092.2" y="672.6" width="3.4" height="10.4" fill="#444"/>
<circle cx="1123" cy="677.6" r="5.4" fill="none" stroke="#6d6d6d" stroke-width="1.1"/><path d="M1125.4 677.6l-3.6-3.1v6.2z" fill="#444"/>
<path d="M1157 672.6h10.4v10.4h-10.4zM1159.5 674.5h5.6v5h-5.6zM1159.5 681h6" fill="none" stroke="#6d6d6d" stroke-width="0.9"/>
<path d="M1190.3 672.6h4v4h-4zM1196.5 672.6h4v4h-4zM1190.3 678.8h4v4h-4zM1196.5 678.8h4v4h-4z" fill="none" stroke="#6d6d6d" stroke-width="0.9"/>
<rect x="1213" y="669.5" width="32.5" height="17.5" fill="#d6d6d6"/>
<path d="M1223.5 672.6h5v10.4h-5zM1229.5 672.6h5v10.4h-5z" fill="none" stroke="#7a7a7a" stroke-width="1"/>
<path d="M1256.8 672.3h11M1258 672.3v6.5h8.6v-6.5M1262.3 678.8v4M1259.5 683h5.6" fill="none" stroke="#6d6d6d" stroke-width="1"/>
<path d="M13.5 698.2l6.3-0.9v6.1h-6.3zM20.8 697.1l6.7-1v7.3h-6.7zM13.5 704.4h6.3v6.1l-6.3-0.9zM20.8 704.4h6.7v7.3l-6.7-1z" fill="#1a1a1a"/>
<circle cx="58.5" cy="701.5" r="4.3" fill="none" stroke="#222" stroke-width="1.3"/><path d="M55.3 704.8L50.5 709.8" stroke="#222" stroke-width="1.4"/>
<circle cx="346.5" cy="702.8" r="5.6" fill="none" stroke="#111" stroke-width="1.6"/>
<path d="M379.7 697.4H388.6M379.7 708.6H388.6" stroke="#222" stroke-width="1.1"/><rect x="381.1" y="699" width="6.2" height="8" fill="none" stroke="#222" stroke-width="1.1"/><path d="M392.3 696.9V709.2" stroke="#222" stroke-width="1"/><circle cx="392.3" cy="701.8" r="1.1" fill="#222"/>
<rect x="419.8" y="693.3" width="19.2" height="19.5" rx="1" fill="#2d3b39"/><path d="M427.8 696.8l2.8 2.4-2.8 2.4-2.8-2.4z" fill="#f2f2f2"/><path d="M425 708.5l7.5-7 2.6 2.3-7.5 7z" fill="#4fd3b0"/>
<circle cx="470" cy="703" r="10.2" fill="#1d74c9"/><path d="M460 701c2-6 8-9.5 14-8.5c4 .8 6.5 4 6.5 8c0 2-1 3.2-3 3.2h-7.5c-.5-3-4-4.5-7-3.5c-1.5.5-2.5 1-3 .8z" fill="#3cc06a"/><path d="M466 704.5c0 4.5 4 7.5 8.5 7c2.5-.3 4.5-1.5 5.5-3c-3 1.2-7 .8-9.5-1c-1.5-1-2.5-2-2.7-3z" fill="#2fa6e0"/><circle cx="470.5" cy="704.5" r="3" fill="#6fc9ef"/>
<circle cx="511.7" cy="702.7" r="9" fill="#0d0d0d"/><path d="M511.7 696l4 5.5-2.2 4.8h-3.6l-2.2-4.8z" fill="#fff"/><circle cx="511.7" cy="701.8" r="1.5" fill="#0d0d0d"/><path d="M511.7 702.5v3.5" stroke="#0d0d0d" stroke-width="0.8"/><rect x="509.6" y="706.8" width="4.2" height="2.2" fill="#fff"/>
<path d="M543.9 695h8v2.6h-8z" fill="#d9962b"/><path d="M543.9 697.4h16.4v13.1h-16.4z" fill="#f6cd55"/><path d="M547.2 704h12.2v6.5h-3.2v-3.6h-5.8v3.6h-3.2z" fill="#3f6f9e"/><path d="M550.4 706.9h5.8v3.6h-5.8z" fill="#c9d97a"/>
<circle cx="594.8" cy="703" r="10" fill="#6f9f3c"/><circle cx="594.8" cy="702.5" r="8.3" fill="#83b84a"/><path d="M590.2 697.5c0 4 0 6.5 1.8 8c1.6 1.2 4 1.2 5.8 0c1.6-1.4 2-3.5 2-8M590.8 706.5l-1.2 4" stroke="#e9f7c8" stroke-width="2.6" fill="none" stroke-linecap="round"/>
<circle cx="635" cy="702.7" r="8.8" fill="#db4437"/><path d="M635 702.7L627.4 698.3A8.8 8.8 0 0 0 630.6 710.3z" fill="#1ea362"/><path d="M635 702.7L630.6 710.3A8.8 8.8 0 0 0 643.8 702.7z" fill="#fcc934"/><circle cx="635" cy="702.7" r="4.1" fill="#fff"/><circle cx="635" cy="702.7" r="3.2" fill="#4285f4"/>
<circle cx="678.2" cy="703" r="9" fill="#d24726"/><path d="M678.2 694a9 9 0 0 1 9 9h-9z" fill="#ff8f6b"/><path d="M678.2 703h9a9 9 0 0 1-9 9z" fill="#c43e1c"/><rect x="667" y="697.9" width="8.5" height="9.8" rx="0.8" fill="#b7472a"/><text x="671.3" y="706" font-size="8" font-weight="bold" fill="#fff" text-anchor="middle">P</text>
<rect x="709.2" y="694" width="18.7" height="18.3" rx="6" fill="#2d8cff"/><rect x="712.3" y="699.2" width="9" height="7.6" rx="1.5" fill="#fff"/><path d="M722 701.3l3.8-2.2v7.8l-3.8-2.2z" fill="#fff"/>
<rect x="536.9" y="717.8" width="33.4" height="2.2" fill="#2b6fb5"/>
<rect x="578" y="717.8" width="33.4" height="2.2" fill="#2b6fb5"/>
<rect x="619.4" y="717.8" width="33.4" height="2.2" fill="#2b6fb5"/>
<rect x="661" y="717.8" width="33.4" height="2.2" fill="#2b6fb5"/>
<rect x="702.2" y="717.8" width="33.4" height="2.2" fill="#2b6fb5"/>
<path d="M1078.5 705.6l5.3-5.3 5.3 5.3" fill="none" stroke="#222" stroke-width="1.1"/>
<rect x="1100" y="699" width="6.5" height="8.5" rx="1" fill="none" stroke="#333" stroke-width="1"/><path d="M1106.5 701.5l3-1.5v6.5l-3-1.5" fill="none" stroke="#333" stroke-width="1"/><path d="M1099.5 698a5 3 0 0 1 8 0M1099.5 708.5a5 3 0 0 0 8 0" fill="none" stroke="#555" stroke-width="0.8"/>
<rect x="1119.5" y="700.5" width="10.5" height="6.5" fill="none" stroke="#333" stroke-width="1"/><rect x="1120.5" y="701.5" width="4.5" height="4.5" fill="#222"/><path d="M1116.5 699.5h3M1118 698v3" stroke="#222" stroke-width="1"/>
<path d="M1137 701h2.5l3.5-3v11l-3.5-3h-2.5z" fill="none" stroke="#333" stroke-width="1"/><path d="M1145 700.5a3.5 3.5 0 0 1 0 5M1147 699a5.5 5.5 0 0 1 0 8M1149 697.5a7.5 7.5 0 0 1 0 11" fill="none" stroke="#333" stroke-width="0.9"/>
<path d="M1170.5 697.5l-9 11M1172.5 699.5l-8 8.5M1163 706c-2 1-2 3.5 0 3.5s2.5-2.5 1.5-3.5M1166 702c2-1 5-1 6.5 1" fill="none" stroke="#333" stroke-width="1.1"/>
<text x="1207.8" y="700.1" font-size="10.6" fill="#222" text-anchor="middle" textLength="34.5" lengthAdjust="spacingAndGlyphs">2:07 PM</text>
<text x="1207.8" y="714.6" font-size="10.6" fill="#222" text-anchor="middle" textLength="44.5" lengthAdjust="spacingAndGlyphs">2/28/2021</text>
<path d="M1246.5 696.5h13.5v10h-5l-3 2.8v-2.8h-5.5z" fill="#111"/><path d="M1248.8 699h9M1248.8 701.3h9M1248.8 703.6h6.5" stroke="#cfcfcf" stroke-width="0.9"/>
<circle cx="1258.7" cy="709.2" r="6" fill="#d4d4d4" stroke="#666" stroke-width="0.9"/><text x="1258.9" y="712.6" font-size="9" fill="#111" text-anchor="middle">1</text>
<rect x="1275.5" y="687" width="4.5" height="33" fill="#dedede"/>
</svg>
</body></html>
